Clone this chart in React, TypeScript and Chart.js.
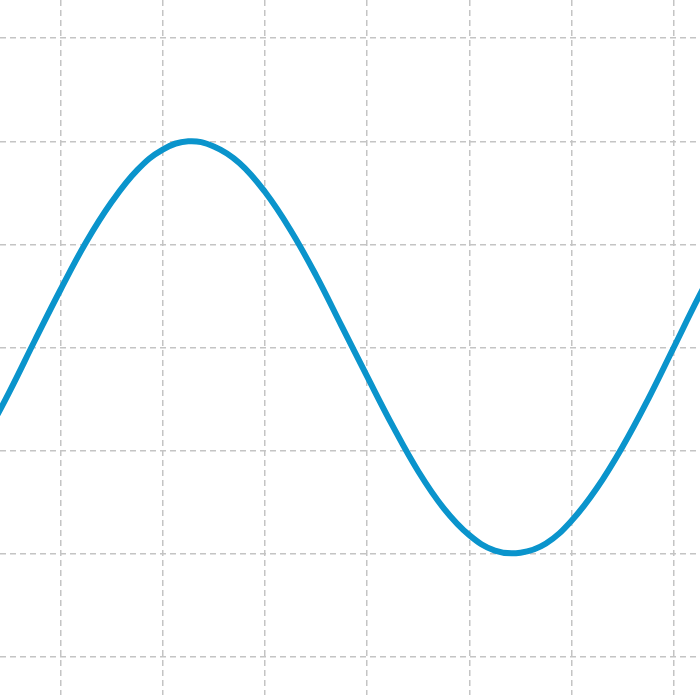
import { useEffect, useRef } from "react"
import { Chart, registerables } from "chart.js"

Chart.register(...registerables)

// x positions (grid units) and the wave's values
const xValues = [
  -0.75, -0.5, -0.25, 0, 0.25, 0.5, 0.75, 1, 1.25, 1.5, 1.75, 2, 2.25, 2.5, 2.75, 3,
  3.25, 3.5, 3.75, 4, 4.25, 4.5, 4.75, 5, 5.25, 5.5, 5.75, 6, 6.25, 6.5,
]
const waveValues = [
  -0.9, -0.43, 0.07, 0.56, 1.02, 1.41, 1.72, 1.92, 2.0, 1.95, 1.79, 1.51, 1.14, 0.7, 0.21,
  -0.28, -0.76, -1.2, -1.56, -1.82, -1.97, -1.99, -1.9, -1.68, -1.36, -0.96, -0.5, 0.0, 0.5,
  0.96,
]

export default function App() {
  const chartRef = useRef<HTMLCanvasElement>(null)
  const chartInstance = useRef<Chart | null>(null)

  useEffect(() => {
    if (!chartRef.current) return
    if (chartInstance.current) chartInstance.current.destroy()

    const ctx = chartRef.current.getContext("2d")
    if (!ctx) return

    const gridAxis = {
      ticks: { display: false, stepSize: 1, includeBounds: false },
      grid: { color: "#c4c4c4", lineWidth: 1.5, drawTicks: false },
      border: { display: false, dash: [6, 4] },
    }

    chartInstance.current = new Chart(ctx, {
      type: "line",
      data: {
        datasets: [
          {
            data: xValues.map((x, i) => ({ x, y: waveValues[i] })),
            borderColor: "#0a94cc",
            borderWidth: 6,
            pointRadius: 0,
            tension: 0.4,
            fill: false,
          },
        ],
      },
      options: {
        animation: false,
        responsive: true,
        maintainAspectRatio: false,
        layout: { padding: { left: 0, right: 0, top: 0, bottom: 5 } },
        plugins: {
          legend: { display: false },
          tooltip: { enabled: false },
        },
        scales: {
          x: { type: "linear", min: -0.592, max: 6.257, ...gridAxis },
          y: { type: "linear", min: -3.37, max: 3.37, ...gridAxis },
        },
      },
    })

    return () => {
      if (chartInstance.current) {
        chartInstance.current.destroy()
        chartInstance.current = null
      }
    }
  }, [])

  return (
    <div style={{ position: "fixed", left: 0, top: 0, width: 700, height: 700, background: "#fff" }}>
      <canvas ref={chartRef} />
    </div>
  )
}
